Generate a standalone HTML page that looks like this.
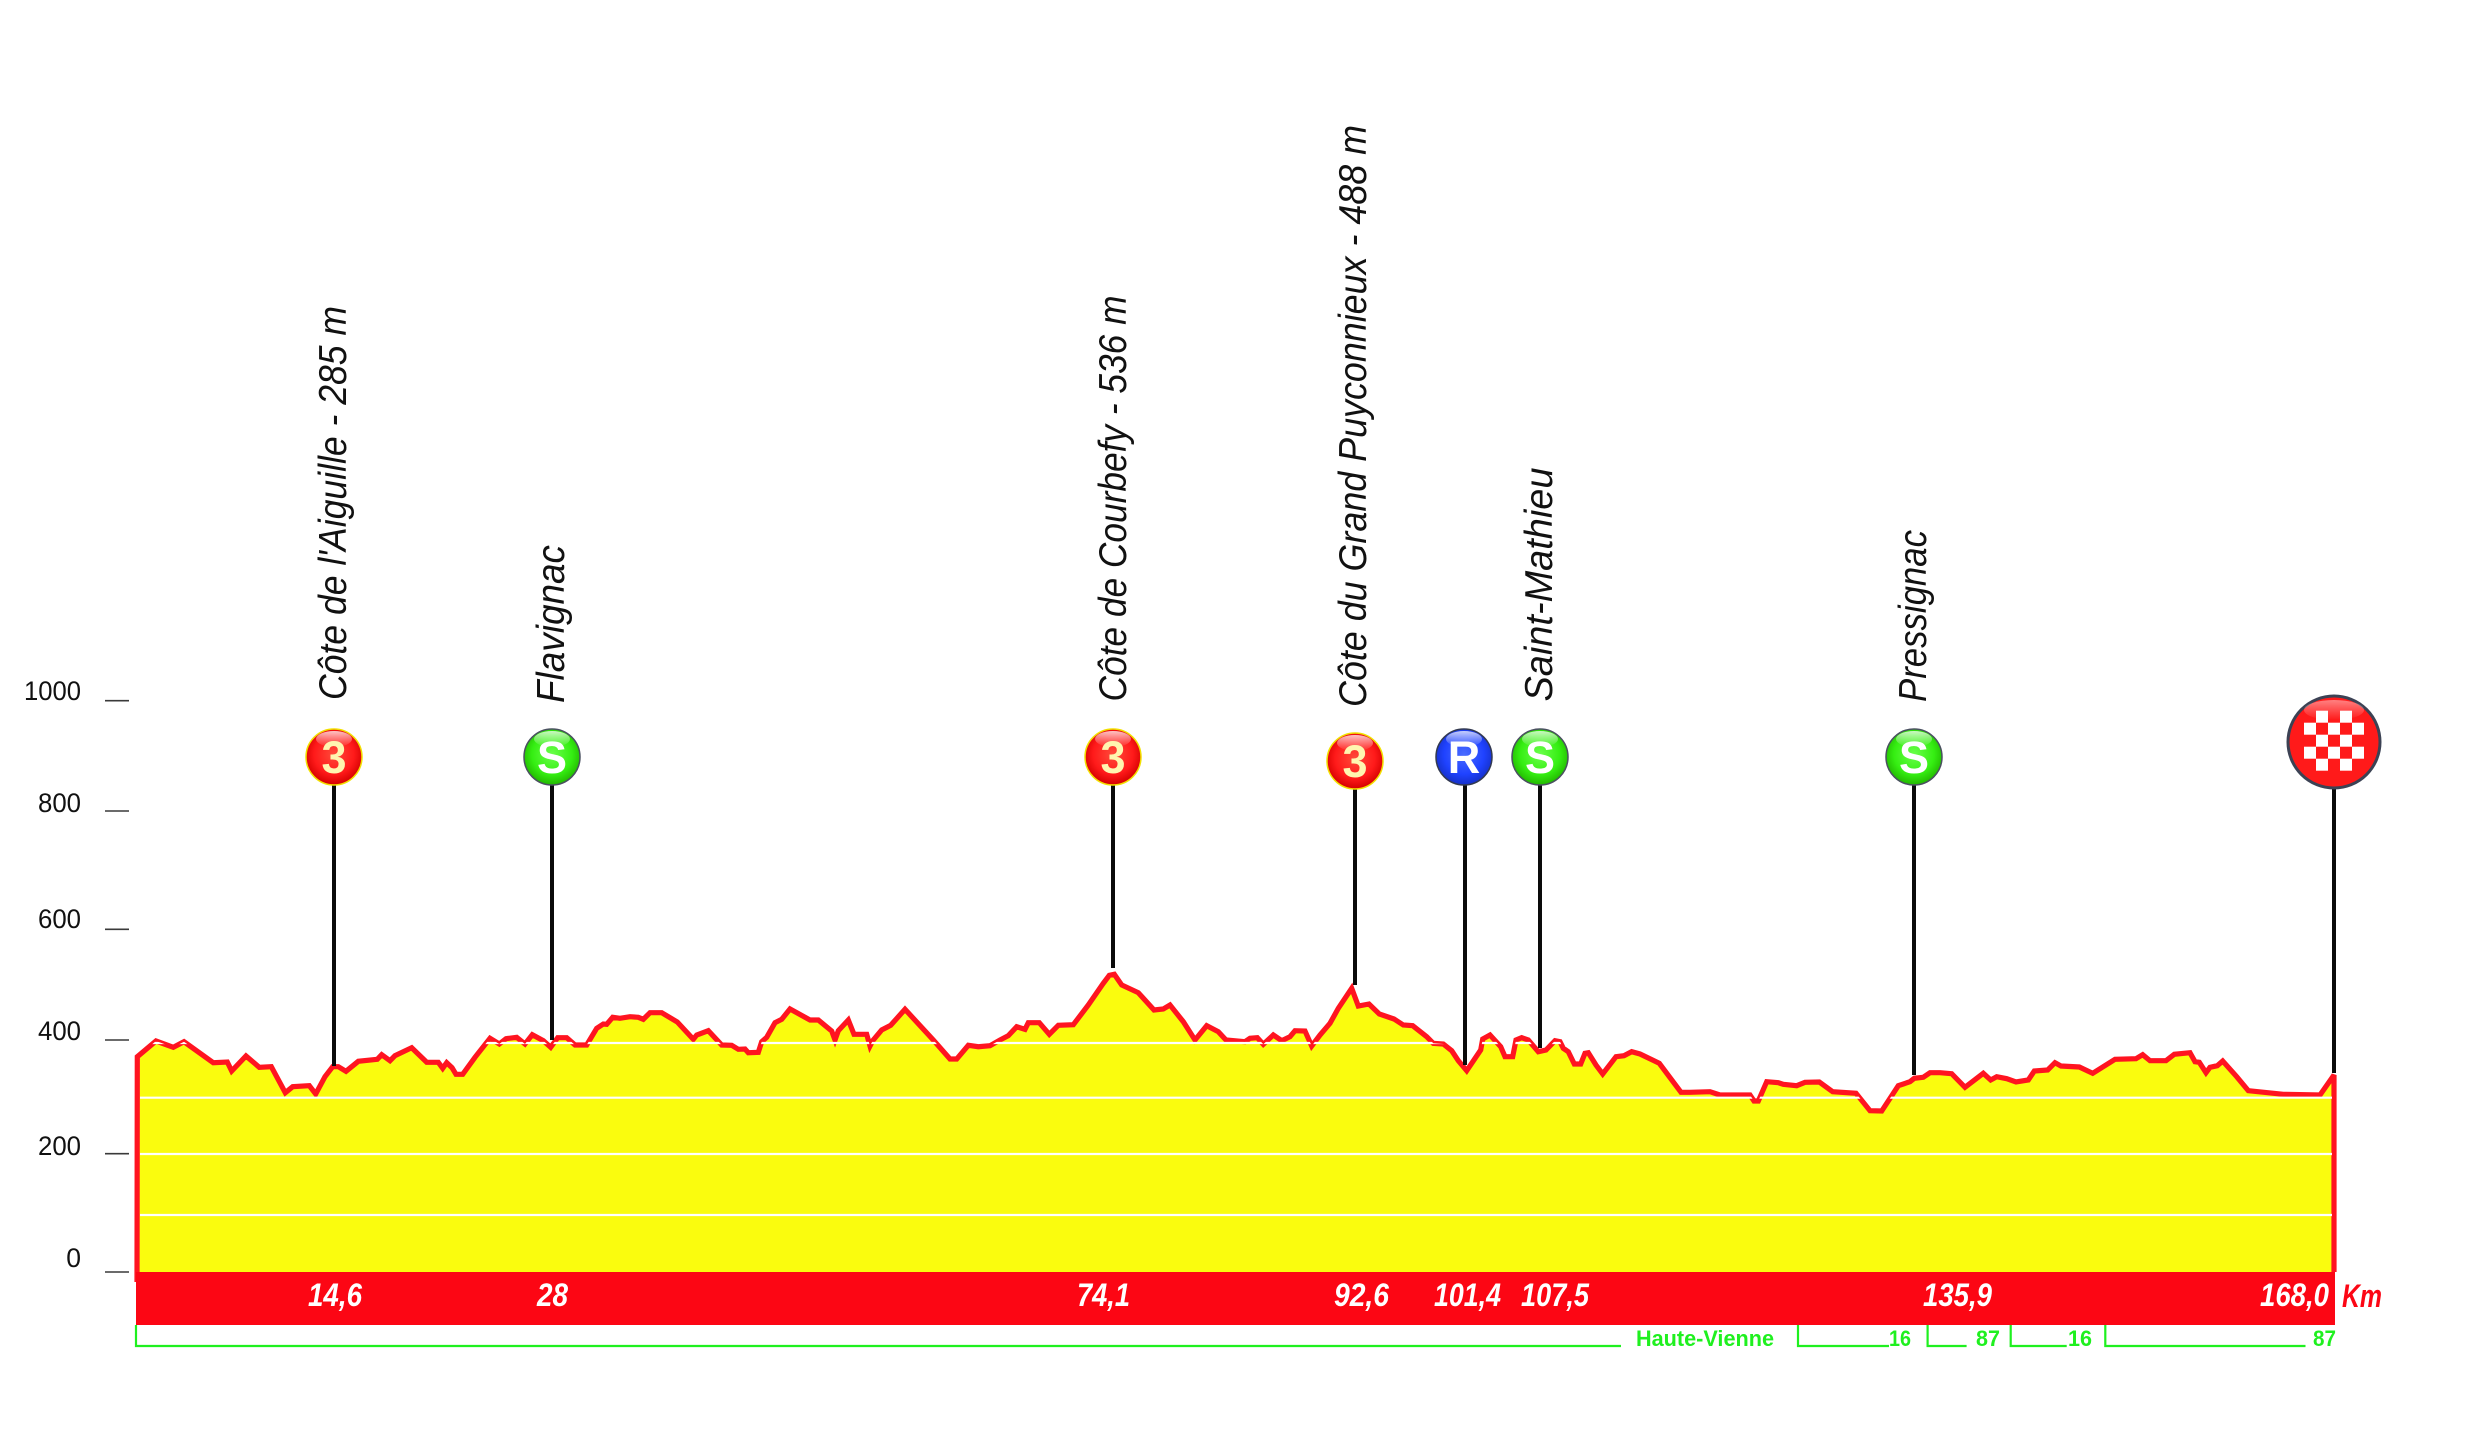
<!DOCTYPE html>
<html>
<head>
<meta charset="utf-8">
<style>
  html, body { margin:0; padding:0; background:#ffffff; }
  body { width:2480px; height:1437px; overflow:hidden; }
  svg { display:block; }
</style>
</head>
<body>
<svg xmlns="http://www.w3.org/2000/svg" width="2480" height="1437" viewBox="0 0 2480 1437">
  <defs>
    <radialGradient id="redG" cx="50%" cy="45%" r="55%">
      <stop offset="0" stop-color="#ff4a3a"/>
      <stop offset="0.65" stop-color="#ff1a1a"/>
      <stop offset="1" stop-color="#d40000"/>
    </radialGradient>
    <radialGradient id="greenG" cx="50%" cy="45%" r="55%">
      <stop offset="0" stop-color="#6aff4a"/>
      <stop offset="0.65" stop-color="#35ee12"/>
      <stop offset="1" stop-color="#22b800"/>
    </radialGradient>
    <radialGradient id="blueG" cx="50%" cy="45%" r="55%">
      <stop offset="0" stop-color="#4a6cff"/>
      <stop offset="0.65" stop-color="#1f42ff"/>
      <stop offset="1" stop-color="#1530c8"/>
    </radialGradient>
    <linearGradient id="gloss" x1="0" y1="0" x2="0" y2="1">
      <stop offset="0" stop-color="#ffffff" stop-opacity="0.75"/>
      <stop offset="1" stop-color="#ffffff" stop-opacity="0"/>
    </linearGradient>
    <clipPath id="profClip">
      <polygon id="profPoly" points="137,1272 137.3,1056.7 156,1041 173.3,1047.3 184,1041.7 213.3,1062.7 227.3,1062 231.7,1071 246,1056 259.3,1067.3 271.3,1066.7 285.3,1092.7 292.7,1086.7 309.3,1085.7 315.7,1094 325,1076.7 332.7,1066.7 338.3,1066.7 346,1071.3 358.3,1061.3 377.3,1059.3 381.7,1054.7 390,1060.7 395,1055.7 411.7,1047.7 426.7,1062.3 438.3,1062.3 442.7,1068.3 446.7,1062.7 452,1067.7 456,1074.3 462.7,1074.3 475,1057.3 490,1038.3 499.3,1044 506,1038.7 516.7,1037.3 525,1044 532.3,1034.7 543.3,1040.7 550.7,1047.3 557.7,1037.7 566.7,1037.7 575,1045 586.7,1045 596.7,1028.3 603.3,1024 606.7,1024.3 612.7,1017.3 620,1018.3 630,1016.7 638.3,1017.3 643.3,1019.3 650,1012.7 661.7,1012.7 677.3,1022 693.3,1039.3 696.7,1035 708.3,1030.7 721.7,1045 731.7,1045.3 738.3,1049.3 745,1049 748.3,1052.7 758.3,1052.3 761.7,1041.7 766.7,1037.3 775,1022.7 781.7,1019.3 790,1009 810,1020 818.3,1020 831.7,1031 835,1040 838.3,1030.7 848.3,1020 854,1034.3 866.7,1034.3 870,1046 872.7,1040.7 881.7,1030 890.7,1025.3 905,1009.3 933.3,1040 950,1059 956.7,1059 968.3,1045.3 978.3,1046.7 990,1045.7 1000,1040 1008.3,1035.7 1016.7,1026.7 1025,1029.3 1028.3,1022.7 1039.3,1022.7 1049.3,1034.3 1058.3,1025.3 1073.3,1024.7 1088.3,1005 1103.3,983.3 1109.3,975.3 1114.3,974.3 1121.7,985 1138.3,992.7 1154,1010 1163.3,1009 1170,1005 1183.3,1021.7 1195,1040 1206.7,1025.7 1218.3,1031.7 1226,1040 1245,1041.7 1250,1038.3 1257.3,1037.7 1263.3,1044.3 1273.3,1035 1281.7,1040.7 1290,1036.7 1295,1030.7 1305,1031 1311.7,1046 1320,1035 1330,1023.3 1338.3,1008.3 1351.7,988.3 1358.3,1006 1369,1004 1379.3,1014 1394,1019 1403.3,1025 1412.7,1025.7 1426.7,1036.7 1433.3,1043.3 1443.3,1044 1451.7,1050.7 1458.3,1060.7 1466.7,1070.7 1480.7,1050 1482.7,1039 1490,1035 1500.7,1046.7 1505,1056.7 1512.7,1056.7 1516,1040 1521.7,1037.7 1528.3,1040 1538.3,1051.7 1546,1050 1555,1040.7 1560,1041.7 1563.3,1048.3 1568.3,1051.7 1574.3,1064 1580.7,1064 1585,1053.3 1588.3,1052.7 1596,1065 1602.7,1074 1616,1056.7 1624,1055.7 1631.7,1051.7 1640,1054 1659.3,1063.3 1681,1092.3 1690,1092.3 1710,1091.7 1720,1095 1750,1095 1754,1101 1758.3,1101 1766.7,1081.7 1778.3,1082.7 1783.3,1084.3 1796.7,1085.7 1805,1082.3 1819.3,1082 1832.7,1091.7 1856,1093.3 1870,1110.7 1881.7,1111 1898.3,1085.7 1910,1081.7 1914.3,1078.3 1923.3,1077.3 1930,1072.7 1940,1072.7 1951.7,1073.7 1965,1087.3 1983.3,1073.3 1990.7,1080 1996.7,1076.7 2006.7,1078.7 2016,1082 2028.3,1080 2034.3,1071 2047.7,1070 2055,1062.7 2061,1066 2079.3,1067 2092.7,1073.3 2115,1059.3 2136,1058.7 2142.7,1054.7 2150,1060.7 2166,1060.7 2174.3,1054.3 2190,1052.7 2195,1061.7 2199.3,1062.3 2206,1072.7 2210,1067.3 2217.3,1065.7 2222.7,1061 2236.7,1076.7 2248.3,1090.7 2283.3,1094.3 2320,1095 2334,1075 2334,1272"/>
    </clipPath>
  </defs>

  <!-- Y axis labels and ticks -->
  <g font-family="'Liberation Sans', sans-serif" font-size="26.5" fill="#111" text-anchor="end">
    <text x="81" y="700" textLength="57" lengthAdjust="spacingAndGlyphs">1000</text>
    <text x="81" y="812" textLength="43" lengthAdjust="spacingAndGlyphs">800</text>
    <text x="81" y="928" textLength="43" lengthAdjust="spacingAndGlyphs">600</text>
    <text x="81" y="1040" textLength="43" lengthAdjust="spacingAndGlyphs">400</text>
    <text x="81" y="1155" textLength="43" lengthAdjust="spacingAndGlyphs">200</text>
    <text x="81" y="1267">0</text>
  </g>
  <g stroke="#3a3a3a" stroke-width="1.6">
    <line x1="105" y1="700.7" x2="129" y2="700.7"/>
    <line x1="105" y1="811" x2="129" y2="811"/>
    <line x1="105" y1="929.3" x2="129" y2="929.3"/>
    <line x1="105" y1="1040" x2="129" y2="1040"/>
    <line x1="105" y1="1153.7" x2="129" y2="1153.7"/>
    <line x1="105" y1="1272" x2="129" y2="1272"/>
  </g>

  <!-- Profile fill -->
  <use href="#profPoly" fill="#fafc0e"/>
  <!-- Red profile line -->
  <polyline fill="none" stroke="#ff1420" stroke-width="5.2" stroke-linejoin="miter" stroke-miterlimit="3"
    points="137,1282 137.3,1056.7 156,1041 173.3,1047.3 184,1041.7 213.3,1062.7 227.3,1062 231.7,1071 246,1056 259.3,1067.3 271.3,1066.7 285.3,1092.7 292.7,1086.7 309.3,1085.7 315.7,1094 325,1076.7 332.7,1066.7 338.3,1066.7 346,1071.3 358.3,1061.3 377.3,1059.3 381.7,1054.7 390,1060.7 395,1055.7 411.7,1047.7 426.7,1062.3 438.3,1062.3 442.7,1068.3 446.7,1062.7 452,1067.7 456,1074.3 462.7,1074.3 475,1057.3 490,1038.3 499.3,1044 506,1038.7 516.7,1037.3 525,1044 532.3,1034.7 543.3,1040.7 550.7,1047.3 557.7,1037.7 566.7,1037.7 575,1045 586.7,1045 596.7,1028.3 603.3,1024 606.7,1024.3 612.7,1017.3 620,1018.3 630,1016.7 638.3,1017.3 643.3,1019.3 650,1012.7 661.7,1012.7 677.3,1022 693.3,1039.3 696.7,1035 708.3,1030.7 721.7,1045 731.7,1045.3 738.3,1049.3 745,1049 748.3,1052.7 758.3,1052.3 761.7,1041.7 766.7,1037.3 775,1022.7 781.7,1019.3 790,1009 810,1020 818.3,1020 831.7,1031 835,1040 838.3,1030.7 848.3,1020 854,1034.3 866.7,1034.3 870,1046 872.7,1040.7 881.7,1030 890.7,1025.3 905,1009.3 933.3,1040 950,1059 956.7,1059 968.3,1045.3 978.3,1046.7 990,1045.7 1000,1040 1008.3,1035.7 1016.7,1026.7 1025,1029.3 1028.3,1022.7 1039.3,1022.7 1049.3,1034.3 1058.3,1025.3 1073.3,1024.7 1088.3,1005 1103.3,983.3 1109.3,975.3 1114.3,974.3 1121.7,985 1138.3,992.7 1154,1010 1163.3,1009 1170,1005 1183.3,1021.7 1195,1040 1206.7,1025.7 1218.3,1031.7 1226,1040 1245,1041.7 1250,1038.3 1257.3,1037.7 1263.3,1044.3 1273.3,1035 1281.7,1040.7 1290,1036.7 1295,1030.7 1305,1031 1311.7,1046 1320,1035 1330,1023.3 1338.3,1008.3 1351.7,988.3 1358.3,1006 1369,1004 1379.3,1014 1394,1019 1403.3,1025 1412.7,1025.7 1426.7,1036.7 1433.3,1043.3 1443.3,1044 1451.7,1050.7 1458.3,1060.7 1466.7,1070.7 1480.7,1050 1482.7,1039 1490,1035 1500.7,1046.7 1505,1056.7 1512.7,1056.7 1516,1040 1521.7,1037.7 1528.3,1040 1538.3,1051.7 1546,1050 1555,1040.7 1560,1041.7 1563.3,1048.3 1568.3,1051.7 1574.3,1064 1580.7,1064 1585,1053.3 1588.3,1052.7 1596,1065 1602.7,1074 1616,1056.7 1624,1055.7 1631.7,1051.7 1640,1054 1659.3,1063.3 1681,1092.3 1690,1092.3 1710,1091.7 1720,1095 1750,1095 1754,1101 1758.3,1101 1766.7,1081.7 1778.3,1082.7 1783.3,1084.3 1796.7,1085.7 1805,1082.3 1819.3,1082 1832.7,1091.7 1856,1093.3 1870,1110.7 1881.7,1111 1898.3,1085.7 1910,1081.7 1914.3,1078.3 1923.3,1077.3 1930,1072.7 1940,1072.7 1951.7,1073.7 1965,1087.3 1983.3,1073.3 1990.7,1080 1996.7,1076.7 2006.7,1078.7 2016,1082 2028.3,1080 2034.3,1071 2047.7,1070 2055,1062.7 2061,1066 2079.3,1067 2092.7,1073.3 2115,1059.3 2136,1058.7 2142.7,1054.7 2150,1060.7 2166,1060.7 2174.3,1054.3 2190,1052.7 2195,1061.7 2199.3,1062.3 2206,1072.7 2210,1067.3 2217.3,1065.7 2222.7,1061 2236.7,1076.7 2248.3,1090.7 2283.3,1094.3 2320,1095 2334,1075 2334,1272"/>

  <!-- White gridlines inside profile -->
  <g clip-path="url(#profClip)" stroke="#ffffff" stroke-width="2.2">
    <line x1="140" y1="1043" x2="2332" y2="1043"/>
    <line x1="140" y1="1097.7" x2="2332" y2="1097.7"/>
    <line x1="140" y1="1154" x2="2332" y2="1154"/>
    <line x1="140" y1="1215" x2="2332" y2="1215"/>
  </g>

  <!-- Marker poles -->
  <g stroke="#0a0a0a" stroke-width="4">
    <line x1="334" y1="784" x2="334" y2="1066"/>
    <line x1="552" y1="784" x2="552" y2="1040"/>
    <line x1="1113" y1="784" x2="1113" y2="968"/>
    <line x1="1355" y1="788" x2="1355" y2="985"/>
    <line x1="1465" y1="784" x2="1465" y2="1065"/>
    <line x1="1540" y1="784" x2="1540" y2="1048"/>
    <line x1="1914" y1="784" x2="1914" y2="1075"/>
    <line x1="2334" y1="786" x2="2334" y2="1073"/>
  </g>

  <!-- Markers -->
  <g font-family="'Liberation Sans', sans-serif" font-weight="bold" font-size="45" text-anchor="middle">
    <circle cx="334" cy="757" r="28" fill="url(#redG)" stroke="#f2e000" stroke-width="1.5"/>
    <ellipse cx="334" cy="739" rx="18" ry="8" fill="url(#gloss)"/>
    <text x="334" y="773" fill="#fff6b0">3</text>

    <circle cx="1113" cy="757" r="28" fill="url(#redG)" stroke="#f2e000" stroke-width="1.5"/>
    <ellipse cx="1113" cy="739" rx="18" ry="8" fill="url(#gloss)"/>
    <text x="1113" y="773" fill="#fff6b0">3</text>

    <circle cx="1355" cy="761" r="28" fill="url(#redG)" stroke="#f2e000" stroke-width="1.5"/>
    <ellipse cx="1355" cy="743" rx="18" ry="8" fill="url(#gloss)"/>
    <text x="1355" y="777" fill="#fff6b0">3</text>

    <circle cx="552" cy="757" r="28" fill="url(#greenG)" stroke="#4a5060" stroke-width="1.5"/>
    <ellipse cx="552" cy="739" rx="18" ry="8" fill="url(#gloss)"/>
    <text x="552" y="773" fill="#ffffff">S</text>

    <circle cx="1540" cy="757" r="28" fill="url(#greenG)" stroke="#4a5060" stroke-width="1.5"/>
    <ellipse cx="1540" cy="739" rx="18" ry="8" fill="url(#gloss)"/>
    <text x="1540" y="773" fill="#ffffff">S</text>

    <circle cx="1914" cy="757" r="28" fill="url(#greenG)" stroke="#4a5060" stroke-width="1.5"/>
    <ellipse cx="1914" cy="739" rx="18" ry="8" fill="url(#gloss)"/>
    <text x="1914" y="773" fill="#ffffff">S</text>

    <circle cx="1464" cy="757" r="28" fill="url(#blueG)" stroke="#333a50" stroke-width="1.5"/>
    <ellipse cx="1464" cy="739" rx="18" ry="8" fill="url(#gloss)"/>
    <text x="1464" y="773" fill="#ffffff">R</text>
  </g>

  <!-- Finish marker -->
  <g>
    <circle cx="2334" cy="742" r="46" fill="#ff1a1a" stroke="#3c4254" stroke-width="3"/>
    <g fill="#ffffff">
      <rect x="2316" y="710.7" width="12" height="12"/>
      <rect x="2340" y="710.7" width="12" height="12"/>
      <rect x="2304" y="722.7" width="12" height="12"/>
      <rect x="2328" y="722.7" width="12" height="12"/>
      <rect x="2352" y="722.7" width="12" height="12"/>
      <rect x="2316" y="734.7" width="12" height="12"/>
      <rect x="2340" y="734.7" width="12" height="12"/>
      <rect x="2304" y="746.7" width="12" height="12"/>
      <rect x="2328" y="746.7" width="12" height="12"/>
      <rect x="2352" y="746.7" width="12" height="12"/>
      <rect x="2316" y="758.7" width="12" height="12"/>
      <rect x="2340" y="758.7" width="12" height="12"/>
    </g>
    <ellipse cx="2334" cy="710" rx="30" ry="10" fill="url(#gloss)" opacity="0.6"/>
  </g>

  <!-- Place labels (rotated) -->
  <g font-family="'Liberation Sans', sans-serif" font-style="italic" font-size="39" fill="#111">
    <text transform="translate(346,700) rotate(-90)" textLength="394" lengthAdjust="spacingAndGlyphs">Côte de l'Aiguille - 285 m</text>
    <text transform="translate(564,703) rotate(-90)" textLength="158" lengthAdjust="spacingAndGlyphs">Flavignac</text>
    <text transform="translate(1126,701.5) rotate(-90)" textLength="406" lengthAdjust="spacingAndGlyphs">Côte de Courbefy - 536 m</text>
    <text transform="translate(1366,707) rotate(-90)" textLength="582" lengthAdjust="spacingAndGlyphs">Côte du Grand Puyconnieux - 488 m</text>
    <text transform="translate(1552,701.5) rotate(-90)" textLength="234" lengthAdjust="spacingAndGlyphs">Saint-Mathieu</text>
    <text transform="translate(1926,702) rotate(-90)" textLength="172" lengthAdjust="spacingAndGlyphs">Pressignac</text>
  </g>

  <!-- Bottom red bar -->
  <rect x="136" y="1272" width="2199" height="53" fill="#fc0614"/>

  <!-- Km labels -->
  <g font-family="'Liberation Sans', sans-serif" font-style="italic" font-weight="bold" font-size="32" fill="#ffffff">
    <text x="308" y="1306" textLength="54" lengthAdjust="spacingAndGlyphs">14,6</text>
    <text x="537" y="1306" textLength="31" lengthAdjust="spacingAndGlyphs">28</text>
    <text x="1077" y="1306" textLength="53" lengthAdjust="spacingAndGlyphs">74,1</text>
    <text x="1334" y="1306" textLength="55" lengthAdjust="spacingAndGlyphs">92,6</text>
    <text x="1434" y="1306" textLength="67" lengthAdjust="spacingAndGlyphs">101,4</text>
    <text x="1521" y="1306" textLength="68" lengthAdjust="spacingAndGlyphs">107,5</text>
    <text x="1923" y="1306" textLength="69" lengthAdjust="spacingAndGlyphs">135,9</text>
    <text x="2260" y="1306" textLength="69" lengthAdjust="spacingAndGlyphs">168,0</text>
  </g>
  <text x="2342" y="1307" font-family="'Liberation Sans', sans-serif" font-style="italic" font-weight="bold" font-size="32" fill="#fc0614" textLength="40" lengthAdjust="spacingAndGlyphs">Km</text>

  <!-- Department brackets -->
  <g fill="none" stroke="#1ff01f" stroke-width="2.2">
    <path d="M136,1325 V1346 H1621"/>
    <path d="M1798,1325 V1346 H1889"/>
    <path d="M1927.6,1325 V1346 H1966.6"/>
    <path d="M2010.7,1325 V1346 H2066.7"/>
    <path d="M2105.3,1325 V1346 H2305.5"/>
  </g>
  <g font-family="'Liberation Sans', sans-serif" font-weight="bold" font-size="22" fill="#1ff01f">
    <text x="1636" y="1346" textLength="138" lengthAdjust="spacingAndGlyphs">Haute-Vienne</text>
    <text x="1889" y="1346" textLength="22" lengthAdjust="spacingAndGlyphs">16</text>
    <text x="1976" y="1346" textLength="24" lengthAdjust="spacingAndGlyphs">87</text>
    <text x="2068" y="1346" textLength="24" lengthAdjust="spacingAndGlyphs">16</text>
    <text x="2313" y="1346" textLength="23" lengthAdjust="spacingAndGlyphs">87</text>
  </g>
</svg>
</body>
</html>
